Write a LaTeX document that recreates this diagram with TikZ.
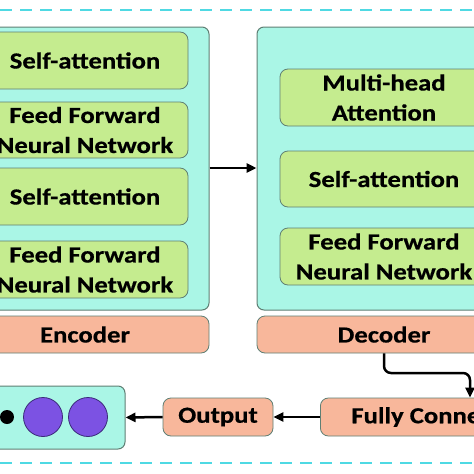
\documentclass[tikz,border=0pt]{standalone}
\usepackage{fontspec}
\setmainfont{Carlito}
\newfontfamily\labfont[FakeStretch=1.16,FakeBold=0.6]{Carlito Bold}
\usetikzlibrary{arrows.meta,calc}
\definecolor{cyanfill}{HTML}{AAF6E6}
\definecolor{bordc}{HTML}{5F7F74}
\definecolor{greenfill}{HTML}{C5EC8F}
\definecolor{salmon}{HTML}{F8B79B}
\definecolor{purp}{HTML}{7C52E3}
\definecolor{purpb}{HTML}{3B2A7A}
\definecolor{dashc}{HTML}{4FD9E3}
\tikzset{
  outerbox/.style={draw=bordc, line width=1pt, fill=cyanfill, rounded corners=7pt, inner sep=0pt},
  gbox/.style={draw=bordc, line width=0.8pt, fill=greenfill, rounded corners=8pt, align=center,
    font=\labfont\fontsize{23}{30}\selectfont, inner sep=0pt, minimum height=57pt},
  pbox/.style={draw=bordc, line width=0.8pt, fill=salmon, rounded corners=8pt, align=center,
    font=\labfont\fontsize{23}{30}\selectfont, inner sep=0pt, minimum height=37pt},
  arr/.style={line width=2.5pt, -{Triangle[length=10pt,width=9pt]}},
  dashln/.style={draw=dashc, line width=2pt, dash pattern=on 12pt off 8pt},
  pcirc/.style={circle, draw=purpb, line width=0.8pt, fill=purp, minimum size=39pt, inner sep=0pt}
}
\begin{document}
\begin{tikzpicture}[x=1pt,y=-1pt]
\useasboundingbox (0,0) rectangle (474,474);
\fill[white] (0,0) rectangle (474,474);
% dashed lines
\coordinate (dtl) at (0,10); \coordinate (dtr) at (474,10);
\coordinate (dbl) at (0,463); \coordinate (dbr) at (474,463);
\draw[dashln] (dtl) -- (dtr);
\draw[dashln] (dbl) -- (dbr);
% encoder
\node[outerbox, minimum width=248pt, minimum height=283pt] (encbox) at (85,168.5) {};
\node[gbox, minimum width=206pt] (e1) at (85,60.5) {Self-attention};
\node[gbox, minimum width=206pt, minimum height=56pt] (e2) at (85,130) {Feed Forward\\Neural Network};
\node[gbox, minimum width=206pt] (e3) at (85,196.5) {Self-attention};
\node[gbox, minimum width=206pt] (e4) at (85,269.5) {Feed Forward\\Neural Network};
\node[pbox, minimum width=248pt] (enc) at (85,334.5) {Encoder};
% decoder
\node[outerbox, minimum width=254pt, minimum height=283pt] (decbox) at (384,168.5) {};
\node[gbox, minimum width=208pt] (d1) at (384,97.5) {Multi-head\\Attention};
\node[gbox, minimum width=208pt, minimum height=56pt] (d2) at (384,179) {Self-attention};
\node[gbox, minimum width=208pt] (d3) at (384,256.5) {Feed Forward\\Neural Network};
\node[pbox, minimum width=254pt] (dec) at (384,334.5) {Decoder};
% bottom row
\node[outerbox, minimum width=165pt, minimum height=63pt] (cbox) at (42.5,417.5) {};
\node[circle, fill=black, minimum size=14pt, inner sep=0pt] (dot) at (7,417) {};
\node[pcirc] (c1) at (43,417) {};
\node[pcirc] (c2) at (88,417) {};
\node[pbox, minimum width=110pt, minimum height=38pt] (out) at (218,417) {Output};
\node[pbox, minimum height=38pt, inner xsep=31pt, anchor=west] (fc) at (320,417) {Fully Connected};
% connectors
\draw[arr] (encbox.east |- 0,168) -- (decbox.west |- 0,168);
\coordinate (turn) at (470,373);
\draw[arr, rounded corners=7pt] (dec.south) |- (turn) -- (turn |- fc.north);
\draw[arr] (fc.west) -- (out.east);
\draw[arr] (out.west) -- (cbox.east);
\end{tikzpicture}
\end{document}
